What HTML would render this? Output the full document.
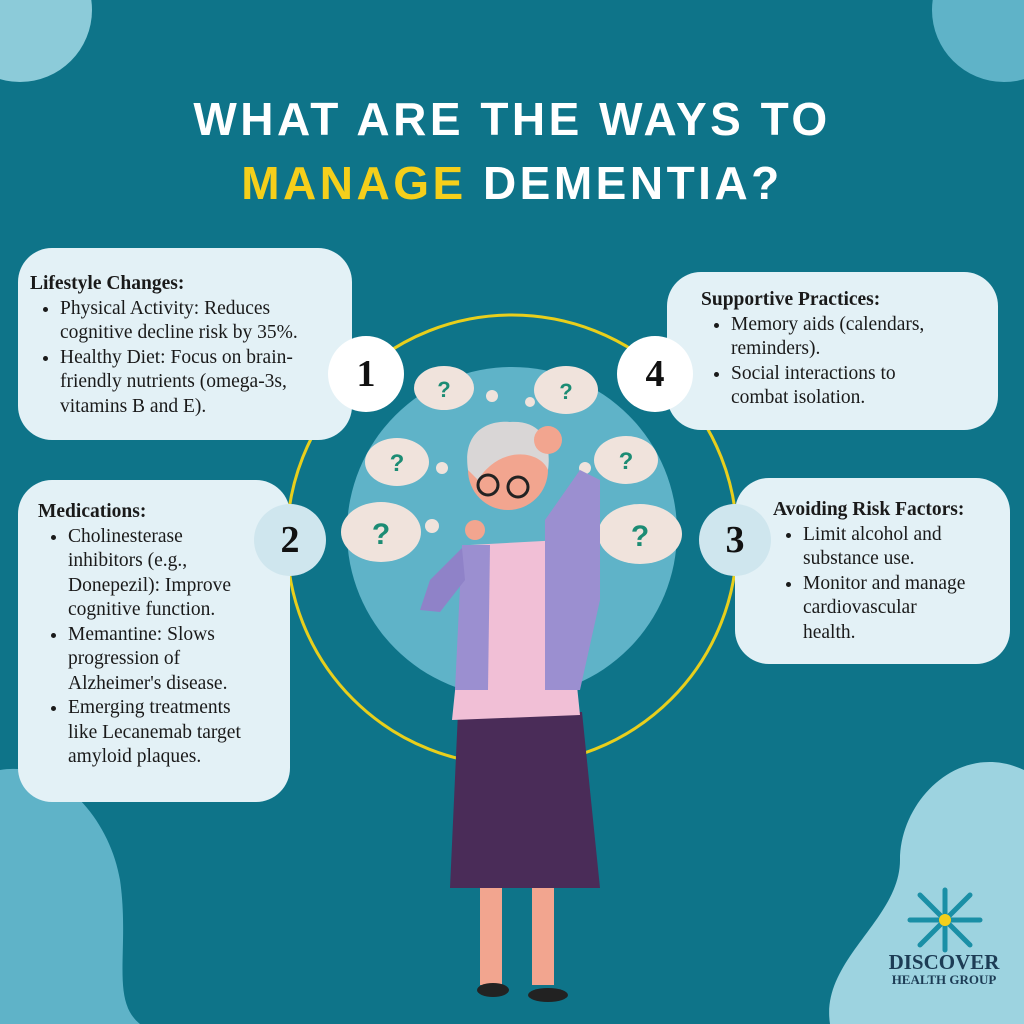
<!DOCTYPE html>
<html><head><style>
body{margin:0}
#c{position:relative;width:1024px;height:1024px;background:#0e7489;overflow:hidden;font-family:"Liberation Serif",serif}
.t{position:absolute;left:0;width:1024px;text-align:center;color:#fff;font:bold 46px "Liberation Sans",sans-serif;letter-spacing:3.5px}
.box{position:absolute;background:#e3f1f6;border-radius:34px;color:#1a1a1a;font-size:19.5px;line-height:24.5px;box-sizing:border-box;white-space:nowrap}
.box b{display:block}
.box ul{margin:0;padding-left:30px}
.box li{margin:0}
.n{position:absolute;border-radius:50%;font:bold 38px "Liberation Serif",serif;display:flex;align-items:center;justify-content:center;color:#111}
</style></head><body><div id="c">
<svg width="1024" height="1024" style="position:absolute;left:0;top:0">
<circle cx="20" cy="10" r="72" fill="#8ccbd9"/>
<circle cx="1004" cy="10" r="72" fill="#5fb3c8"/>
<path d="M0 770 C60 760 110 820 120 880 C130 950 110 1000 140 1024 L0 1024Z" fill="#5fb3c8"/>
<path d="M1024 770 C960 740 900 800 900 860 C900 920 820 960 830 1024 L1024 1024Z" fill="#9dd3e0"/>
<circle cx="512" cy="540" r="225" fill="none" stroke="#e8cf1c" stroke-width="3"/>
<circle cx="512" cy="532" r="165" fill="#5fb3c8"/>
<g fill="#f0e3dc">
<ellipse cx="444" cy="388" rx="30" ry="22"/><ellipse cx="566" cy="390" rx="32" ry="24"/>
<ellipse cx="397" cy="462" rx="32" ry="24"/><ellipse cx="626" cy="460" rx="32" ry="24"/>
<ellipse cx="381" cy="532" rx="40" ry="30"/><ellipse cx="640" cy="534" rx="42" ry="30"/>
<circle cx="492" cy="396" r="6"/><circle cx="530" cy="402" r="5"/><circle cx="442" cy="468" r="6"/><circle cx="585" cy="468" r="6"/><circle cx="432" cy="526" r="7"/><circle cx="590" cy="522" r="6"/>
</g>
<g fill="#1c8c74" font-family="Liberation Sans" font-weight="bold" text-anchor="middle">
<text x="444" y="397" font-size="22">?</text><text x="566" y="399" font-size="22">?</text>
<text x="397" y="471" font-size="24">?</text><text x="626" y="469" font-size="24">?</text>
<text x="381" y="544" font-size="30">?</text><text x="640" y="546" font-size="30">?</text>
</g>
<rect x="480" y="880" width="22" height="105" fill="#f2a58f"/><rect x="532" y="880" width="22" height="105" fill="#f2a58f"/>
<ellipse cx="493" cy="990" rx="16" ry="7" fill="#222"/><ellipse cx="548" cy="995" rx="20" ry="7" fill="#222"/>
<path d="M458 712 L582 712 L600 888 L450 888Z" fill="#4a2c58"/>
<path d="M470 545 L562 540 L580 715 L452 720Z" fill="#f1bfd6"/>
<path d="M462 545 L490 545 L488 690 L455 690Z" fill="#9b8fd0"/>
<path d="M545 520 L580 470 L600 480 L600 600 L580 690 L545 690Z" fill="#9b8fd0"/>
<path d="M462 548 L430 580 L420 610 L440 612 L465 580Z" fill="#8f82c8"/>
<circle cx="508" cy="470" r="40" fill="#f2a58f"/>
<path d="M468 470 C462 430 490 420 510 422 C540 420 552 440 548 470 C540 450 500 445 478 480Z" fill="#d9d6d6"/>
<circle cx="488" cy="485" r="10" fill="none" stroke="#222" stroke-width="3"/><circle cx="518" cy="487" r="10" fill="none" stroke="#222" stroke-width="3"/>
<circle cx="548" cy="440" r="14" fill="#f2a58f"/>
<circle cx="475" cy="530" r="10" fill="#f2a58f"/>
</svg>
<div class="t" style="top:92px">WHAT ARE THE WAYS TO</div>
<div class="t" style="top:156px"><span style="color:#f5cf1b">MANAGE</span> DEMENTIA?</div>
<div class="box" style="left:18px;top:248px;width:334px;height:192px;padding:24px 0 0 12px"><b>Lifestyle Changes:</b><ul><li>Physical Activity: Reduces<br>cognitive decline risk by 35%.</li><li>Healthy Diet: Focus on brain-<br>friendly nutrients (omega-3s,<br>vitamins B and E).</li></ul></div>
<div class="box" style="left:667px;top:272px;width:331px;height:158px;padding:16px 0 0 34px"><b>Supportive Practices:</b><ul><li>Memory aids (calendars,<br>reminders).</li><li>Social interactions to<br>combat isolation.</li></ul></div>
<div class="box" style="left:18px;top:480px;width:272px;height:322px;padding:20px 0 0 20px"><b>Medications:</b><ul><li>Cholinesterase<br>inhibitors (e.g.,<br>Donepezil): Improve<br>cognitive function.</li><li>Memantine: Slows<br>progression of<br>Alzheimer's disease.</li><li>Emerging treatments<br>like Lecanemab target<br>amyloid plaques.</li></ul></div>
<div class="box" style="left:735px;top:478px;width:275px;height:186px;padding:20px 0 0 38px"><b>Avoiding Risk Factors:</b><ul><li>Limit alcohol and<br>substance use.</li><li>Monitor and manage<br>cardiovascular<br>health.</li></ul></div>
<div class="n" style="left:328px;top:336px;width:76px;height:76px;background:#fff">1</div>
<div class="n" style="left:617px;top:336px;width:76px;height:76px;background:#fff">4</div>
<div class="n" style="left:254px;top:504px;width:72px;height:72px;background:#cfe6ee">2</div>
<div class="n" style="left:699px;top:504px;width:72px;height:72px;background:#cfe6ee">3</div>
<svg width="80" height="70" style="position:absolute;left:905px;top:885px"><g stroke="#1a8fa6" stroke-width="5" stroke-linecap="round"><line x1="40" y1="5" x2="40" y2="65"/><line x1="5" y1="35" x2="75" y2="35"/><line x1="15" y1="10" x2="65" y2="60"/><line x1="65" y1="10" x2="15" y2="60"/></g><circle cx="40" cy="35" r="6" fill="#f5cf1b"/></svg>
<div style="position:absolute;left:880px;top:950px;width:128px;text-align:center;color:#1d3c55;font:bold 21px 'Liberation Serif',serif">DISCOVER</div>
<div style="position:absolute;left:880px;top:972px;width:128px;text-align:center;color:#1d3c55;font:bold 13px 'Liberation Serif',serif">HEALTH GROUP</div>
</div></body></html>
